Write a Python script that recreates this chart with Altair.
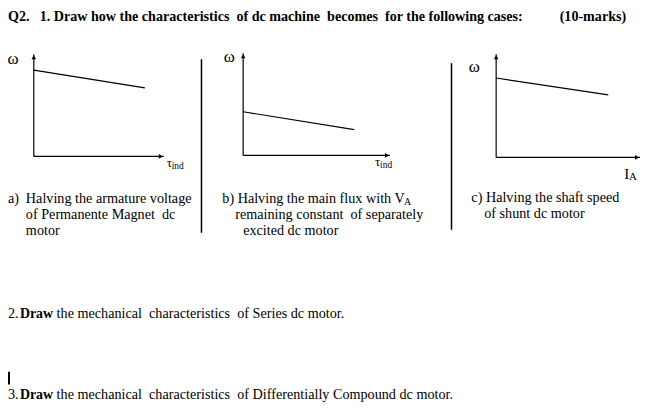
import altair as alt
import pandas as pd

FONT = "Liberation Serif"
NB = "\u00a0"

# ---- page texts ----
title_txt = ["Q2.", "1. Draw how the characteristics" + NB + " of dc machine" + NB + " becomes" + NB + " for the following cases:", "(10-marks)"]
title_x = [8, 40, 564]
title_y = [15.5, 15.5, 15.5]

cap_txt = ["a)", "Halving the armature voltage", "of Permanente Magnet" + NB + " dc", "motor",
           "b) Halving the main flux with V", "remaining constant" + NB + " of separately", "excited dc motor",
           "c) Halving the shaft speed", "of shunt dc motor",
           "2.", "the mechanical" + NB + " characteristics" + NB + " of Series dc motor.",
           "3.", "the mechanical" + NB + " characteristics" + NB + " of Differentially Compound dc motor."]
cap_x = [8, 26, 26, 26, 224, 237, 245, 475, 488, 8, 57, 8, 57]
cap_y = [199, 199, 215, 231, 199, 215, 231, 198, 214, 315, 315, 397, 397]

bold_txt = ["Draw", "Draw"]
bold_x = [20, 20]
bold_y = [315, 397]

# ---- mini characteristic panels (page units) ----
pan_ox = [34, 245, 500]        # origin x
pan_oy = [156, 155, 157]       # origin y
pan_top = [53, 52, 53]         # y-axis arrow tip
pan_right = [165, 393, 645]    # x-axis arrow tip
line_x1 = [34, 245, 500]
line_y1 = [69, 111, 77]
line_x2 = [146, 357, 613]
line_y2 = [87, 129, 94]
omega_x = [13, 231, 478]
omega_y = [58, 56, 66]

# axis symbol labels
sym_main = ["τ", "τ", "I"]
sym_main_x = [168, 378, 629]
sym_main_y = [163, 162, 174]
sym_main_size = [13, 13, 15]
sym_sub = ["ind", "ind", "A"]
sym_sub_x = [173, 383, 634]
sym_sub_y = [166, 165, 177]
sym_sub_size = [9.5, 9.5, 11]

# vertical separators
sep_x = [203, 455]
sep_y1 = [58, 62]
sep_y2 = [233, 230]

# caret
caret_x = [9]
caret_y1 = [373]
caret_y2 = [386]

X = alt.Scale(domain=[8, 648])
Y = alt.Scale(domain=[8, 406], reverse=True)

def xe(f):
    return alt.X(f, type="quantitative", scale=X, axis=None)

def ye(f):
    return alt.Y(f, type="quantitative", scale=Y, axis=None)

df_title = pd.DataFrame({"t": title_txt, "x": title_x, "y": title_y})
df_cap = pd.DataFrame({"t": cap_txt, "x": cap_x, "y": cap_y})
df_bold = pd.DataFrame({"t": bold_txt, "x": bold_x, "y": bold_y})

title = alt.Chart(df_title).mark_text(font=FONT, fontSize=14.2, fontWeight="bold", align="left",
                                      baseline="middle", color="black").encode(x=xe("x"), y=ye("y"), text="t:N")
cap = alt.Chart(df_cap).mark_text(font=FONT, fontSize=14.3, align="left", baseline="middle",
                                  color="black").encode(x=xe("x"), y=ye("y"), text="t:N")
bold = alt.Chart(df_bold).mark_text(font=FONT, fontSize=14, fontWeight="bold", align="left",
                                    baseline="middle", color="black").encode(x=xe("x"), y=ye("y"), text="t:N")

# subscript A for V_A
df_va = pd.DataFrame({"t": ["A"], "x": [407], "y": [202]})
va = alt.Chart(df_va).mark_text(font=FONT, fontSize=10, align="left", baseline="middle",
                                color="black").encode(x=xe("x"), y=ye("y"), text="t:N")

# axes
df_ax = pd.DataFrame({
    "x1": pan_ox + pan_ox, "y1": pan_oy + pan_oy,
    "x2": pan_ox + pan_right, "y2": pan_top + pan_oy,
})
axes = alt.Chart(df_ax).mark_rule(color="black", strokeWidth=1.2).encode(
    x=xe("x1"), y=ye("y1"), x2="x2:Q", y2="y2:Q")

df_up = pd.DataFrame({"x": pan_ox, "y": [t + 3 for t in pan_top]})
up = alt.Chart(df_up).mark_point(shape="triangle-up", filled=True, size=22, color="black", opacity=1).encode(
    x=xe("x"), y=ye("y"))
df_rt = pd.DataFrame({"x": [r - 3 for r in pan_right], "y": pan_oy})
rt = alt.Chart(df_rt).mark_point(shape="triangle-right", filled=True, size=22, color="black", opacity=1).encode(
    x=xe("x"), y=ye("y"))

df_ln = pd.DataFrame({"x1": line_x1, "y1": line_y1, "x2": line_x2, "y2": line_y2})
lines = alt.Chart(df_ln).mark_rule(color="black", strokeWidth=1.2).encode(
    x=xe("x1"), y=ye("y1"), x2="x2:Q", y2="y2:Q")

df_om = pd.DataFrame({"t": ["ω"] * 3, "x": omega_x, "y": omega_y})
om = alt.Chart(df_om).mark_text(font=FONT, fontSize=17, align="center", baseline="middle",
                                color="black").encode(x=xe("x"), y=ye("y"), text="t:N")

df_sm = pd.DataFrame({"t": sym_main, "x": sym_main_x, "y": sym_main_y, "s": sym_main_size})
sm = alt.Chart(df_sm).mark_text(font=FONT, align="left", baseline="middle",
                                color="black").encode(x=xe("x"), y=ye("y"), text="t:N",
                                                      size=alt.Size("s:Q", scale=None, legend=None))
df_ss = pd.DataFrame({"t": sym_sub, "x": sym_sub_x, "y": sym_sub_y, "s": sym_sub_size})
ss = alt.Chart(df_ss).mark_text(font=FONT, align="left", baseline="middle",
                                color="black").encode(x=xe("x"), y=ye("y"), text="t:N",
                                                      size=alt.Size("s:Q", scale=None, legend=None))

df_sep = pd.DataFrame({"x": sep_x, "y1": sep_y1, "y2": sep_y2})
sep = alt.Chart(df_sep).mark_rule(color="black", strokeWidth=1.5).encode(
    x=xe("x"), y=ye("y1"), y2="y2:Q")

df_car = pd.DataFrame({"x": caret_x, "y1": caret_y1, "y2": caret_y2})
car = alt.Chart(df_car).mark_rule(color="black", strokeWidth=2).encode(
    x=xe("x"), y=ye("y1"), y2="y2:Q")

chart = alt.layer(axes, up, rt, lines, sep, car, title, cap, bold, va, om, sm, ss).properties(
    width=640, height=398, padding=0, autosize=alt.AutoSizeParams(type="none"),
    background="white"
).configure_view(stroke=None)

chart.save("out.html", embed_options={"renderer": "svg", "actions": False})
